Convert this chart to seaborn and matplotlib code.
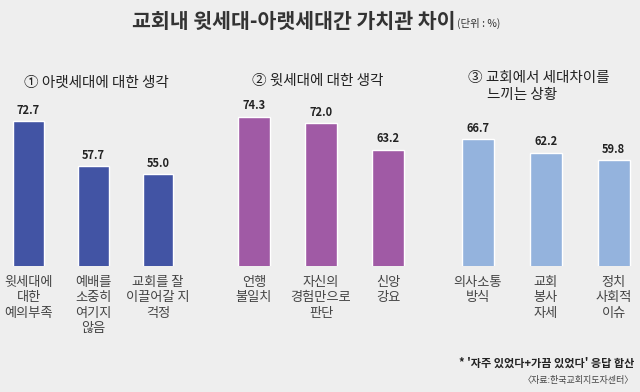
import pandas as pd
import matplotlib.pyplot as plt
import seaborn as sns

# 데이터
titles = ['① 아랫세대에 대한 생각', '② 윗세대에 대한 생각', '③ 교회에서 세대차이를', '느끼는 상황']
cats1 = ['윗세대에\n대한\n예의부족', '예배를\n소중히\n여기지\n않음', '교회를 잘\n이끌어갈 지\n걱정']
vals1 = [72.7, 57.7, 55.0]
cats2 = ['언행\n불일치', '자신의\n경험만으로\n판단', '신앙\n강요']
vals2 = [74.3, 72.0, 63.2]
cats3 = ['의사소통\n방식', '교회\n봉사\n자세', '정치\n사회적\n이슈']
vals3 = [66.7, 62.2, 59.8]
colors = ['#4254a4', '#a05aa5', '#94b3dd']

sns.set_style('white')
plt.rcParams['font.family'] = ['Noto Sans CJK KR', 'DejaVu Sans']

W, H = 640, 392
fig = plt.figure(figsize=(6.4, 3.92), dpi=100, facecolor='#eeeeee')

# 패널 위치 (픽셀): 왼쪽, 폭, x축 범위
panels = [
    (0, 195, (-0.44, 2.57)),
    (210, 210, (-0.657, 2.478)),
    (420, 220, (-0.849, 2.387)),
]
y_bot, y_top = 266, 60
ylim = (24, 24 + (y_bot - y_top) / 2.97)

data = [(cats1, vals1), (cats2, vals2), (cats3, vals3)]
for i, ((left, width, xl), (cats, vals)) in enumerate(zip(panels, data)):
    ax = fig.add_axes([left / W, (H - y_bot) / H, width / W, (y_bot - y_top) / H])
    ax.set_facecolor('none')
    df = pd.DataFrame({'cat': cats, 'val': vals})
    sns.barplot(data=df, x='cat', y='val', color=colors[i], saturation=1,
                width=0.47, ax=ax)
    ax.set_xlim(*xl)
    ax.set_ylim(*ylim)
    for s in ax.spines.values():
        s.set_visible(False)
    ax.set_xlabel('')
    ax.set_ylabel('')
    ax.set_yticks([])
    ax.tick_params(axis='x', length=0, pad=7, labelsize=9.5, labelcolor='#444444')
    for t in ax.get_xticklabels():
        t.set_linespacing(1.25)
    for p in ax.patches:
        ax.annotate(f'{p.get_height():.1f}',
                    (p.get_x() + p.get_width() / 2, p.get_height()),
                    xytext=(0, 3), textcoords='offset points',
                    ha='center', va='bottom', fontsize=8, fontweight='bold',
                    color='#222222')

# 패널 제목
fig.text(96 / W, 1 - 83 / H, titles[0], ha='center', va='center', fontsize=10.5, color='#222222')
fig.text(318 / W, 1 - 81 / H, titles[1], ha='center', va='center', fontsize=10.5, color='#222222')
fig.text(468 / W, 1 - 78 / H, titles[2], ha='left', va='center', fontsize=10.5, color='#222222')
fig.text(487 / W, 1 - 95 / H, titles[3], ha='left', va='center', fontsize=10.5, color='#222222')

# 제목
fig.text(455 / W, 1 - 21 / H, '교회내 윗세대-아랫세대간 가치관 차이', ha='right', va='center',
         fontsize=14.8, fontweight='bold', color='#333333')
fig.text(457 / W, 1 - 23 / H, '(단위 : %)', ha='left', va='center', fontsize=7.5, color='#333333')

# 주석
fig.text(634 / W, 1 - 363 / H, "* '자주 있었다+가끔 있었다' 응답 합산", ha='right', va='center',
         fontsize=8, fontweight='bold', color='#222222')
fig.text(634 / W, 1 - 380 / H, '〈자료:한국교회지도자센터〉', ha='right', va='center',
         fontsize=6.5, color='#444444')

fig.savefig('out.png', dpi=100, facecolor=fig.get_facecolor())
